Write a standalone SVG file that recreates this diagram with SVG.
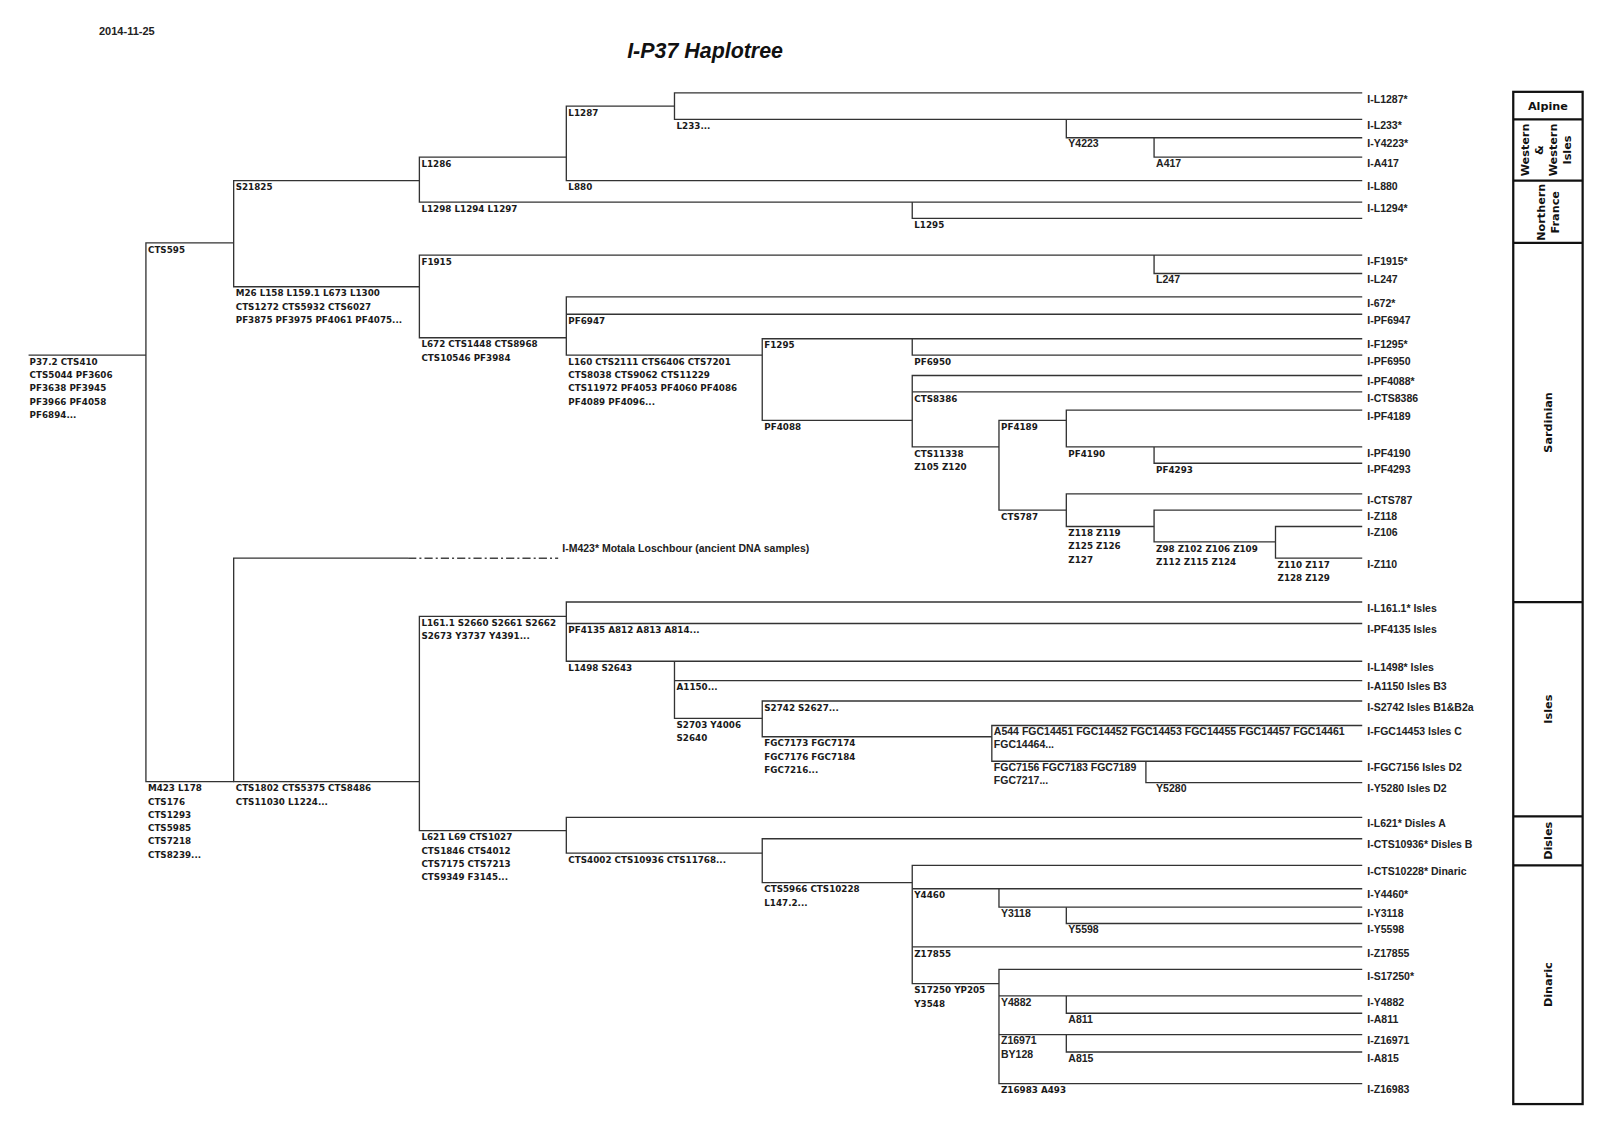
<svg xmlns="http://www.w3.org/2000/svg" width="1600" height="1130" viewBox="0 0 1600 1130">
<style>
.c path{fill:none;stroke:#333;stroke-width:1.3}
.c .dd{stroke:#444;stroke-width:1.5;stroke-dasharray:8,3,2,3}
.n{font-family:"DejaVu Sans",Verdana,sans-serif;font-weight:bold;font-size:8.6px;fill:#1a1a1a}
.m{font-family:"Liberation Sans",Arial,sans-serif;font-weight:bold;font-size:10.3px;fill:#222}
.lg{font-family:"DejaVu Sans",Verdana,sans-serif;font-weight:bold;font-size:11px;fill:#111;text-anchor:middle}
.box{fill:none;stroke:#111;stroke-width:2.2}
</style>
<rect width="1600" height="1130" fill="#fff"/>
<g transform="scale(1.0204)">
<text x="97" y="34.5" class="m" style="font-size:10.8px">2014-11-25</text>
<text x="691" y="57" style="font-family:'Liberation Sans',Arial,sans-serif;font-weight:bold;font-style:italic;font-size:21px;text-anchor:middle;fill:#111">I-P37 Haplotree</text>

<g id="connectors" class="c">
<path d="M28,348H143"/>
<path d="M229,238H143V766H229"/>
<path d="M411,177H229V281H411"/>
<path d="M555,154H411V198H1335"/>
<path d="M894,198V214H1335"/>
<path d="M661,104H555V177H1335"/>
<path d="M1335,91H661V117H1335"/>
<path d="M1045,117V135H1335"/>
<path d="M1131,135V154H1335"/>
<path d="M1335,250H411V331H555"/>
<path d="M1131,250V268H1335"/>
<path d="M1335,291H555V348H747"/>
<path d="M555,308H1335"/>
<path d="M1335,332H747V412H894"/>
<path d="M894,332V348H1335"/>
<path d="M1335,368H894V438H979"/>
<path d="M894,384H1335"/>
<path d="M1045,412H979V500H1045"/>
<path d="M1335,402H1045V438H1335"/>
<path d="M1131,438V454H1335"/>
<path d="M1335,484H1045V516H1131"/>
<path d="M1335,500H1131V531H1250"/>
<path d="M1335,516H1250V547H1335"/>
<path d="M400,547H229V766H411"/>
<path class="dd" d="M400,547H547"/>
<path d="M555,604H411V814H555"/>
<path d="M1335,590H555V648H1335"/>
<path d="M555,611H1335"/>
<path d="M661,648V704H747"/>
<path d="M661,667H1335"/>
<path d="M1335,687H747V722H972"/>
<path d="M1335,711H972V746H1335"/>
<path d="M1123,746V767H1335"/>
<path d="M1335,801H555V836H747"/>
<path d="M1335,822H747V865H894"/>
<path d="M1335,848H894V964H979"/>
<path d="M894,871H1335"/>
<path d="M894,928H1335"/>
<path d="M979,871V889H1335"/>
<path d="M1045,889V905H1335"/>
<path d="M1335,950H979V1062H1335"/>
<path d="M979,976H1335"/>
<path d="M979,1014H1335"/>
<path d="M1045,976V993H1335"/>
<path d="M1045,1014V1031H1335"/>
</g>

<g id="n-root"><text class="n" x="29" y="357.5"><tspan x="29">P37.2 CTS410</tspan><tspan x="29" dy="13">CTS5044 PF3606</tspan><tspan x="29" dy="13">PF3638 PF3945</tspan><tspan x="29" dy="13">PF3966 PF4058</tspan><tspan x="29" dy="13">PF6894...</tspan></text></g>
<g id="n-CTS595"><text class="n" x="145" y="247.5">CTS595</text></g>
<g id="n-M423"><text class="n" x="145" y="775.5"><tspan x="145">M423 L178</tspan><tspan x="145" dy="13">CTS176</tspan><tspan x="145" dy="13">CTS1293</tspan><tspan x="145" dy="13">CTS5985</tspan><tspan x="145" dy="13">CTS7218</tspan><tspan x="145" dy="13">CTS8239...</tspan></text></g>
<g id="n-S21825"><text class="n" x="231" y="186.5">S21825</text></g>
<g id="n-M26"><text class="n" x="231" y="290.5"><tspan x="231">M26 L158 L159.1 L673 L1300</tspan><tspan x="231" dy="13">CTS1272 CTS5932 CTS6027</tspan><tspan x="231" dy="13">PF3875  PF3975 PF4061 PF4075...</tspan></text></g>
<g id="n-L1286"><text class="n" x="413" y="163.5">L1286</text></g>
<g id="n-L1298"><text class="n" x="413" y="207.5">L1298 L1294 L1297</text></g>
<g id="n-L1287"><text class="n" x="557" y="113.5">L1287</text></g>
<g id="n-L880"><text class="n" x="557" y="186.5">L880</text></g>
<g id="n-L233"><text class="n" x="663" y="126.5">L233...</text></g>
<g id="n-Y4223"><text class="m" x="1047" y="144.5">Y4223</text></g>
<g id="n-A417"><text class="m" x="1133" y="163.5">A417</text></g>
<g id="n-L1295"><text class="n" x="896" y="223.5">L1295</text></g>
<g id="n-F1915"><text class="n" x="413" y="259.5">F1915</text></g>
<g id="n-L247"><text class="m" x="1133" y="277.5">L247</text></g>
<g id="n-L672"><text class="n" x="413" y="340.5"><tspan x="413">L672 CTS1448 CTS8968</tspan><tspan x="413" dy="13">CTS10546 PF3984</tspan></text></g>
<g id="n-PF6947"><text class="n" x="557" y="317.5">PF6947</text></g>
<g id="n-L160"><text class="n" x="557" y="357.5"><tspan x="557">L160 CTS2111 CTS6406 CTS7201</tspan><tspan x="557" dy="13">CTS8038 CTS9062 CTS11229</tspan><tspan x="557" dy="13">CTS11972 PF4053 PF4060  PF4086</tspan><tspan x="557" dy="13">PF4089 PF4096...</tspan></text></g>
<g id="n-F1295"><text class="n" x="749" y="341.5">F1295</text></g>
<g id="n-PF6950"><text class="n" x="896" y="357.5">PF6950</text></g>
<g id="n-PF4088"><text class="n" x="749" y="421.5">PF4088</text></g>
<g id="n-CTS8386"><text class="n" x="896" y="393.5">CTS8386</text></g>
<g id="n-CTS11338"><text class="n" x="896" y="447.5"><tspan x="896">CTS11338</tspan><tspan x="896" dy="13">Z105 Z120</tspan></text></g>
<g id="n-PF4189"><text class="n" x="981" y="421.5">PF4189</text></g>
<g id="n-PF4190"><text class="n" x="1047" y="447.5">PF4190</text></g>
<g id="n-PF4293"><text class="n" x="1133" y="463.5">PF4293</text></g>
<g id="n-CTS787"><text class="n" x="981" y="509.5">CTS787</text></g>
<g id="n-Z118"><text class="n" x="1047" y="525.5"><tspan x="1047">Z118 Z119</tspan><tspan x="1047" dy="13">Z125 Z126</tspan><tspan x="1047" dy="13">Z127</tspan></text></g>
<g id="n-Z98"><text class="n" x="1133" y="540.5"><tspan x="1133">Z98 Z102 Z106 Z109</tspan><tspan x="1133" dy="13">Z112 Z115 Z124</tspan></text></g>
<g id="n-Z110"><text class="n" x="1252" y="556.5"><tspan x="1252">Z110 Z117</tspan><tspan x="1252" dy="13">Z128 Z129</tspan></text></g>
<g id="n-M423anc"><text class="m" x="551" y="540.5">I-M423* Motala Loschbour (ancient DNA samples)</text></g>
<g id="n-CTS1802"><text class="n" x="231" y="775.5"><tspan x="231">CTS1802 CTS5375 CTS8486</tspan><tspan x="231" dy="13">CTS11030 L1224...</tspan></text></g>
<g id="n-L161"><text class="n" x="413" y="613.5"><tspan x="413">L161.1 S2660 S2661 S2662</tspan><tspan x="413" dy="13">S2673 Y3737 Y4391...</tspan></text></g>
<g id="n-PF4135"><text class="n" x="557" y="620.5">PF4135 A812 A813 A814...</text></g>
<g id="n-L1498"><text class="n" x="557" y="657.5">L1498 S2643</text></g>
<g id="n-A1150"><text class="n" x="663" y="676.5">A1150...</text></g>
<g id="n-S2703"><text class="n" x="663" y="713.5"><tspan x="663">S2703 Y4006</tspan><tspan x="663" dy="13">S2640</tspan></text></g>
<g id="n-S2742"><text class="n" x="749" y="696.5">S2742 S2627...</text></g>
<g id="n-FGC7173"><text class="n" x="749" y="731.5"><tspan x="749">FGC7173 FGC7174</tspan><tspan x="749" dy="13">FGC7176  FGC7184</tspan><tspan x="749" dy="13">FGC7216...</tspan></text></g>
<g id="n-A544"><text class="m" x="974" y="720.5"><tspan x="974">A544 FGC14451 FGC14452 FGC14453 FGC14455 FGC14457 FGC14461</tspan><tspan x="974" dy="13">FGC14464...</tspan></text></g>
<g id="n-FGC7156"><text class="m" x="974" y="755.5"><tspan x="974">FGC7156 FGC7183 FGC7189</tspan><tspan x="974" dy="13">FGC7217...</tspan></text></g>
<g id="n-Y5280"><text class="m" x="1133" y="776.5">Y5280</text></g>
<g id="n-L621"><text class="n" x="413" y="823.5"><tspan x="413">L621 L69 CTS1027</tspan><tspan x="413" dy="13">CTS1846 CTS4012</tspan><tspan x="413" dy="13">CTS7175 CTS7213</tspan><tspan x="413" dy="13">CTS9349 F3145...</tspan></text></g>
<g id="n-CTS4002"><text class="n" x="557" y="845.5">CTS4002 CTS10936 CTS11768...</text></g>
<g id="n-CTS5966"><text class="n" x="749" y="874.5"><tspan x="749">CTS5966 CTS10228</tspan><tspan x="749" dy="13">L147.2...</tspan></text></g>
<g id="n-Y4460"><text class="n" x="896" y="880.5">Y4460</text></g>
<g id="n-Y3118"><text class="m" x="981" y="898.5">Y3118</text></g>
<g id="n-Y5598"><text class="m" x="1047" y="914.5">Y5598</text></g>
<g id="n-Z17855"><text class="n" x="896" y="937.5">Z17855</text></g>
<g id="n-S17250"><text class="n" x="896" y="973.5"><tspan x="896">S17250 YP205</tspan><tspan x="896" dy="13">Y3548</tspan></text></g>
<g id="n-Y4882"><text class="m" x="981" y="985.5">Y4882</text></g>
<g id="n-A811"><text class="m" x="1047" y="1002.5">A811</text></g>
<g id="n-Z16971"><text class="m" x="981" y="1023.5"><tspan x="981">Z16971</tspan><tspan x="981" dy="13">BY128</tspan></text></g>
<g id="n-A815"><text class="m" x="1047" y="1040.5">A815</text></g>
<g id="n-Z16983"><text class="n" x="981" y="1071.5">Z16983 A493</text></g>

<g id="tips" class="m">
<g id="t-L1287"><text x="1340" y="100.5">I-L1287*</text></g>
<g id="t-L233"><text x="1340" y="126.5">I-L233*</text></g>
<g id="t-Y4223"><text x="1340" y="144.5">I-Y4223*</text></g>
<g id="t-A417"><text x="1340" y="163.5">I-A417</text></g>
<g id="t-L880"><text x="1340" y="186.5">I-L880</text></g>
<g id="t-L1294"><text x="1340" y="207.5">I-L1294*</text></g>
<g id="t-F1915"><text x="1340" y="259.5">I-F1915*</text></g>
<g id="t-L247"><text x="1340" y="277.5">I-L247</text></g>
<g id="t-672"><text x="1340" y="300.5">I-672*</text></g>
<g id="t-PF6947"><text x="1340" y="317.5">I-PF6947</text></g>
<g id="t-F1295"><text x="1340" y="341.5">I-F1295*</text></g>
<g id="t-PF6950"><text x="1340" y="357.5">I-PF6950</text></g>
<g id="t-PF4088"><text x="1340" y="377.5">I-PF4088*</text></g>
<g id="t-CTS8386"><text x="1340" y="393.5">I-CTS8386</text></g>
<g id="t-PF4189"><text x="1340" y="411.5">I-PF4189</text></g>
<g id="t-PF4190"><text x="1340" y="447.5">I-PF4190</text></g>
<g id="t-PF4293"><text x="1340" y="463.5">I-PF4293</text></g>
<g id="t-CTS787"><text x="1340" y="493.5">I-CTS787</text></g>
<g id="t-Z118"><text x="1340" y="509.5">I-Z118</text></g>
<g id="t-Z106"><text x="1340" y="525.5">I-Z106</text></g>
<g id="t-Z110"><text x="1340" y="556.5">I-Z110</text></g>
<g id="t-L161"><text x="1340" y="599.5">I-L161.1* Isles</text></g>
<g id="t-PF4135"><text x="1340" y="620.5">I-PF4135 Isles</text></g>
<g id="t-L1498"><text x="1340" y="657.5">I-L1498* Isles</text></g>
<g id="t-A1150"><text x="1340" y="676.5">I-A1150 Isles B3</text></g>
<g id="t-S2742"><text x="1340" y="696.5">I-S2742 Isles B1&amp;B2a</text></g>
<g id="t-FGC14453"><text x="1340" y="720.5">I-FGC14453 Isles C</text></g>
<g id="t-FGC7156"><text x="1340" y="755.5">I-FGC7156 Isles D2</text></g>
<g id="t-Y5280"><text x="1340" y="776.5">I-Y5280 Isles D2</text></g>
<g id="t-L621"><text x="1340" y="810.5">I-L621* Disles A</text></g>
<g id="t-CTS10936"><text x="1340" y="831.5">I-CTS10936* Disles B</text></g>
<g id="t-CTS10228"><text x="1340" y="857.5">I-CTS10228* Dinaric</text></g>
<g id="t-Y4460"><text x="1340" y="880.5">I-Y4460*</text></g>
<g id="t-Y3118"><text x="1340" y="898.5">I-Y3118</text></g>
<g id="t-Y5598"><text x="1340" y="914.5">I-Y5598</text></g>
<g id="t-Z17855"><text x="1340" y="937.5">I-Z17855</text></g>
<g id="t-S17250"><text x="1340" y="960.5">I-S17250*</text></g>
<g id="t-Y4882"><text x="1340" y="985.5">I-Y4882</text></g>
<g id="t-A811"><text x="1340" y="1002.5">I-A811</text></g>
<g id="t-Z16971"><text x="1340" y="1023.5">I-Z16971</text></g>
<g id="t-A815"><text x="1340" y="1040.5">I-A815</text></g>
<g id="t-Z16983"><text x="1340" y="1071.5">I-Z16983</text></g>
</g>

<g id="legend">
<rect class="box" x="1483" y="90" width="68" height="992"/>
<path class="box" d="M1483,117H1551M1483,177H1551M1483,238H1551M1483,590H1551M1483,800H1551M1483,848H1551"/>
<text class="lg" x="1517" y="107.5">Alpine</text>
<text class="lg" transform="translate(1498,147) rotate(-90)">Western</text>
<text class="lg" transform="translate(1512,147) rotate(-90)">&amp;</text>
<text class="lg" transform="translate(1526,147) rotate(-90)">Western</text>
<text class="lg" transform="translate(1540,147) rotate(-90)">Isles</text>
<text class="lg" transform="translate(1514,208) rotate(-90)">Northern</text>
<text class="lg" transform="translate(1528,208) rotate(-90)">France</text>
<text class="lg" transform="translate(1521,414) rotate(-90)">Sardinian</text>
<text class="lg" transform="translate(1521,695) rotate(-90)">Isles</text>
<text class="lg" transform="translate(1521,824) rotate(-90)">Disles</text>
<text class="lg" transform="translate(1521,965) rotate(-90)">Dinaric</text>
</g>
</g>
</svg>
